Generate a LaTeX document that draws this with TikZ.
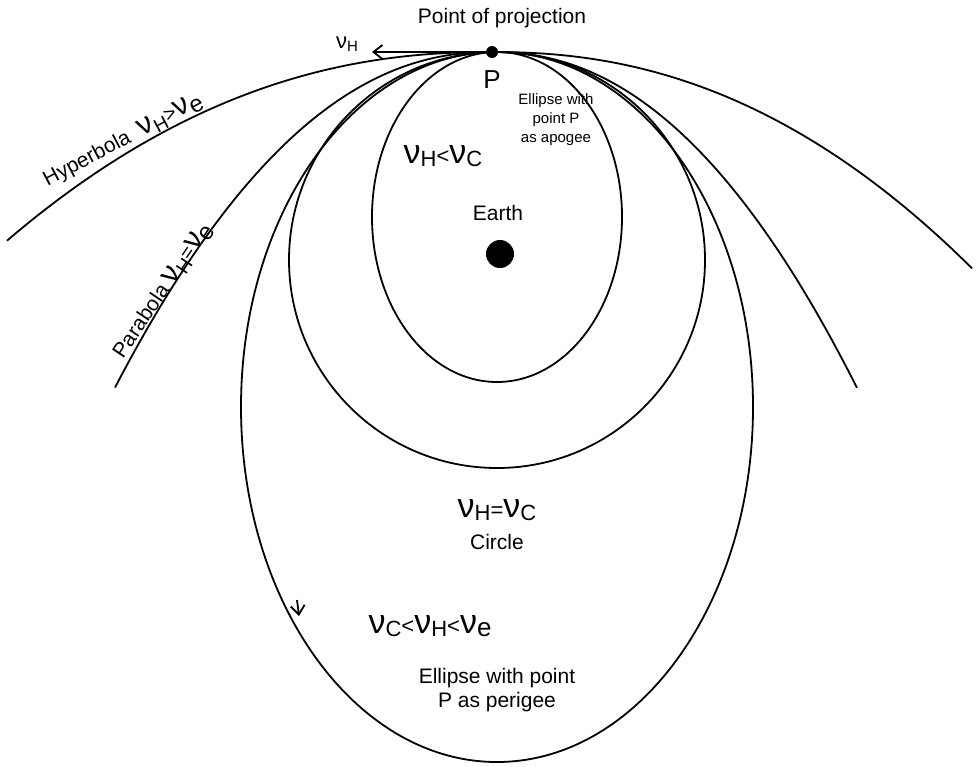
\documentclass[tikz,border=0pt]{standalone}
\usepackage{fontspec}
\setmainfont{Liberation Sans}
\usetikzlibrary{arrows.meta}
\newcommand{\nusub}[3]{{\fontsize{#1}{#1}\selectfont ν}\raisebox{-0.45ex}{\fontsize{#2}{#2}\selectfont #3}}
\begin{document}
\begin{tikzpicture}[x=1pt,y=-1pt,
  orbit/.style={line width=1.8pt},
  lbl/.style={inner sep=0pt,font=\fontsize{21}{24}\selectfont},
  big/.style={inner sep=0pt,font=\fontsize{26}{30}\selectfont},
  small/.style={inner sep=0pt,align=center,font=\fontsize{15}{19}\selectfont}]
\useasboundingbox (0,0) rectangle (979,766);
\coordinate (P) at (492,52);
\node[lbl] (title) at (502,18) {Point of projection};
% orbits
\draw[orbit] (497,217) ellipse [x radius=125, y radius=165];
\draw[orbit] (497,260) circle [radius=208];
\draw[orbit] (497,407) ellipse [x radius=256, y radius=355];
% parabola
\draw[orbit,domain=-377:0,samples=100] plot (\x+492,{52+19.1*pow(abs(\x)/100,2.16)});
\draw[orbit,domain=0:365,samples=100] plot (\x+492,{52+20.5*pow(abs(\x)/100,2.16)});
% hyperbola
\draw[orbit,domain=-485:0,samples=100] plot (\x+492,{52+5.85*pow(abs(\x)/100,2.2)});
\draw[orbit,domain=0:480,samples=100] plot (\x+492,{52+6.86*pow(abs(\x)/100,2.2)});
% earth and P
\fill (500,254) circle [radius=14];
\node[lbl] (earth) at (498,213) {Earth};
\fill (P) circle [radius=6];
\node[big] (plabel) at (492,80) {P};
% velocity arrow
\coordinate (vend) at (372,52);
\draw[line width=1.8pt,-{Straight Barb[length=9pt,width=14pt]}] (P) -- (vend);
\node[inner sep=0pt] (vh) at (347,44) {\nusub{22}{15}{H}};
% arrow on large ellipse
\coordinate (a1) at (297,600);
\coordinate (a2) at (299,616);
\draw[line width=1.8pt,-{Straight Barb[length=9pt,width=14pt]}] (a1) -- (a2);
% labels
\node[small] (apo) at (556,120) {Ellipse with\\point P\\as apogee};
\node[inner sep=0pt] (l1) at (443,156) {\nusub{34}{22}{H}{\fontsize{22}{22}\selectfont<}\nusub{34}{22}{C}};
\node[lbl,rotate=28,anchor=south] (hyp) at (128,150) {Hyperbola \ \nusub{30}{19}{H}{\fontsize{20}{20}\selectfont>}\nusub{30}{24}{e}};
\node[lbl,rotate=56,anchor=south] (par) at (172,297) {Parabola \nusub{30}{19}{H}{\fontsize{20}{20}\selectfont=}\nusub{30}{24}{e}};
\node[inner sep=0pt] (l2) at (497,510) {\nusub{34}{22}{H}{\fontsize{22}{22}\selectfont=}\nusub{34}{22}{C}};
\node[lbl] (circ) at (497,542) {Circle};
\node[inner sep=0pt] (l3) at (430,626) {\nusub{34}{22}{C}{\fontsize{22}{22}\selectfont<}\nusub{34}{22}{H}{\fontsize{22}{22}\selectfont<}\nusub{34}{26}{e}};
\node[lbl,align=center] (peri) at (497,690) {Ellipse with point\\P as perigee};
\end{tikzpicture}
\end{document}
